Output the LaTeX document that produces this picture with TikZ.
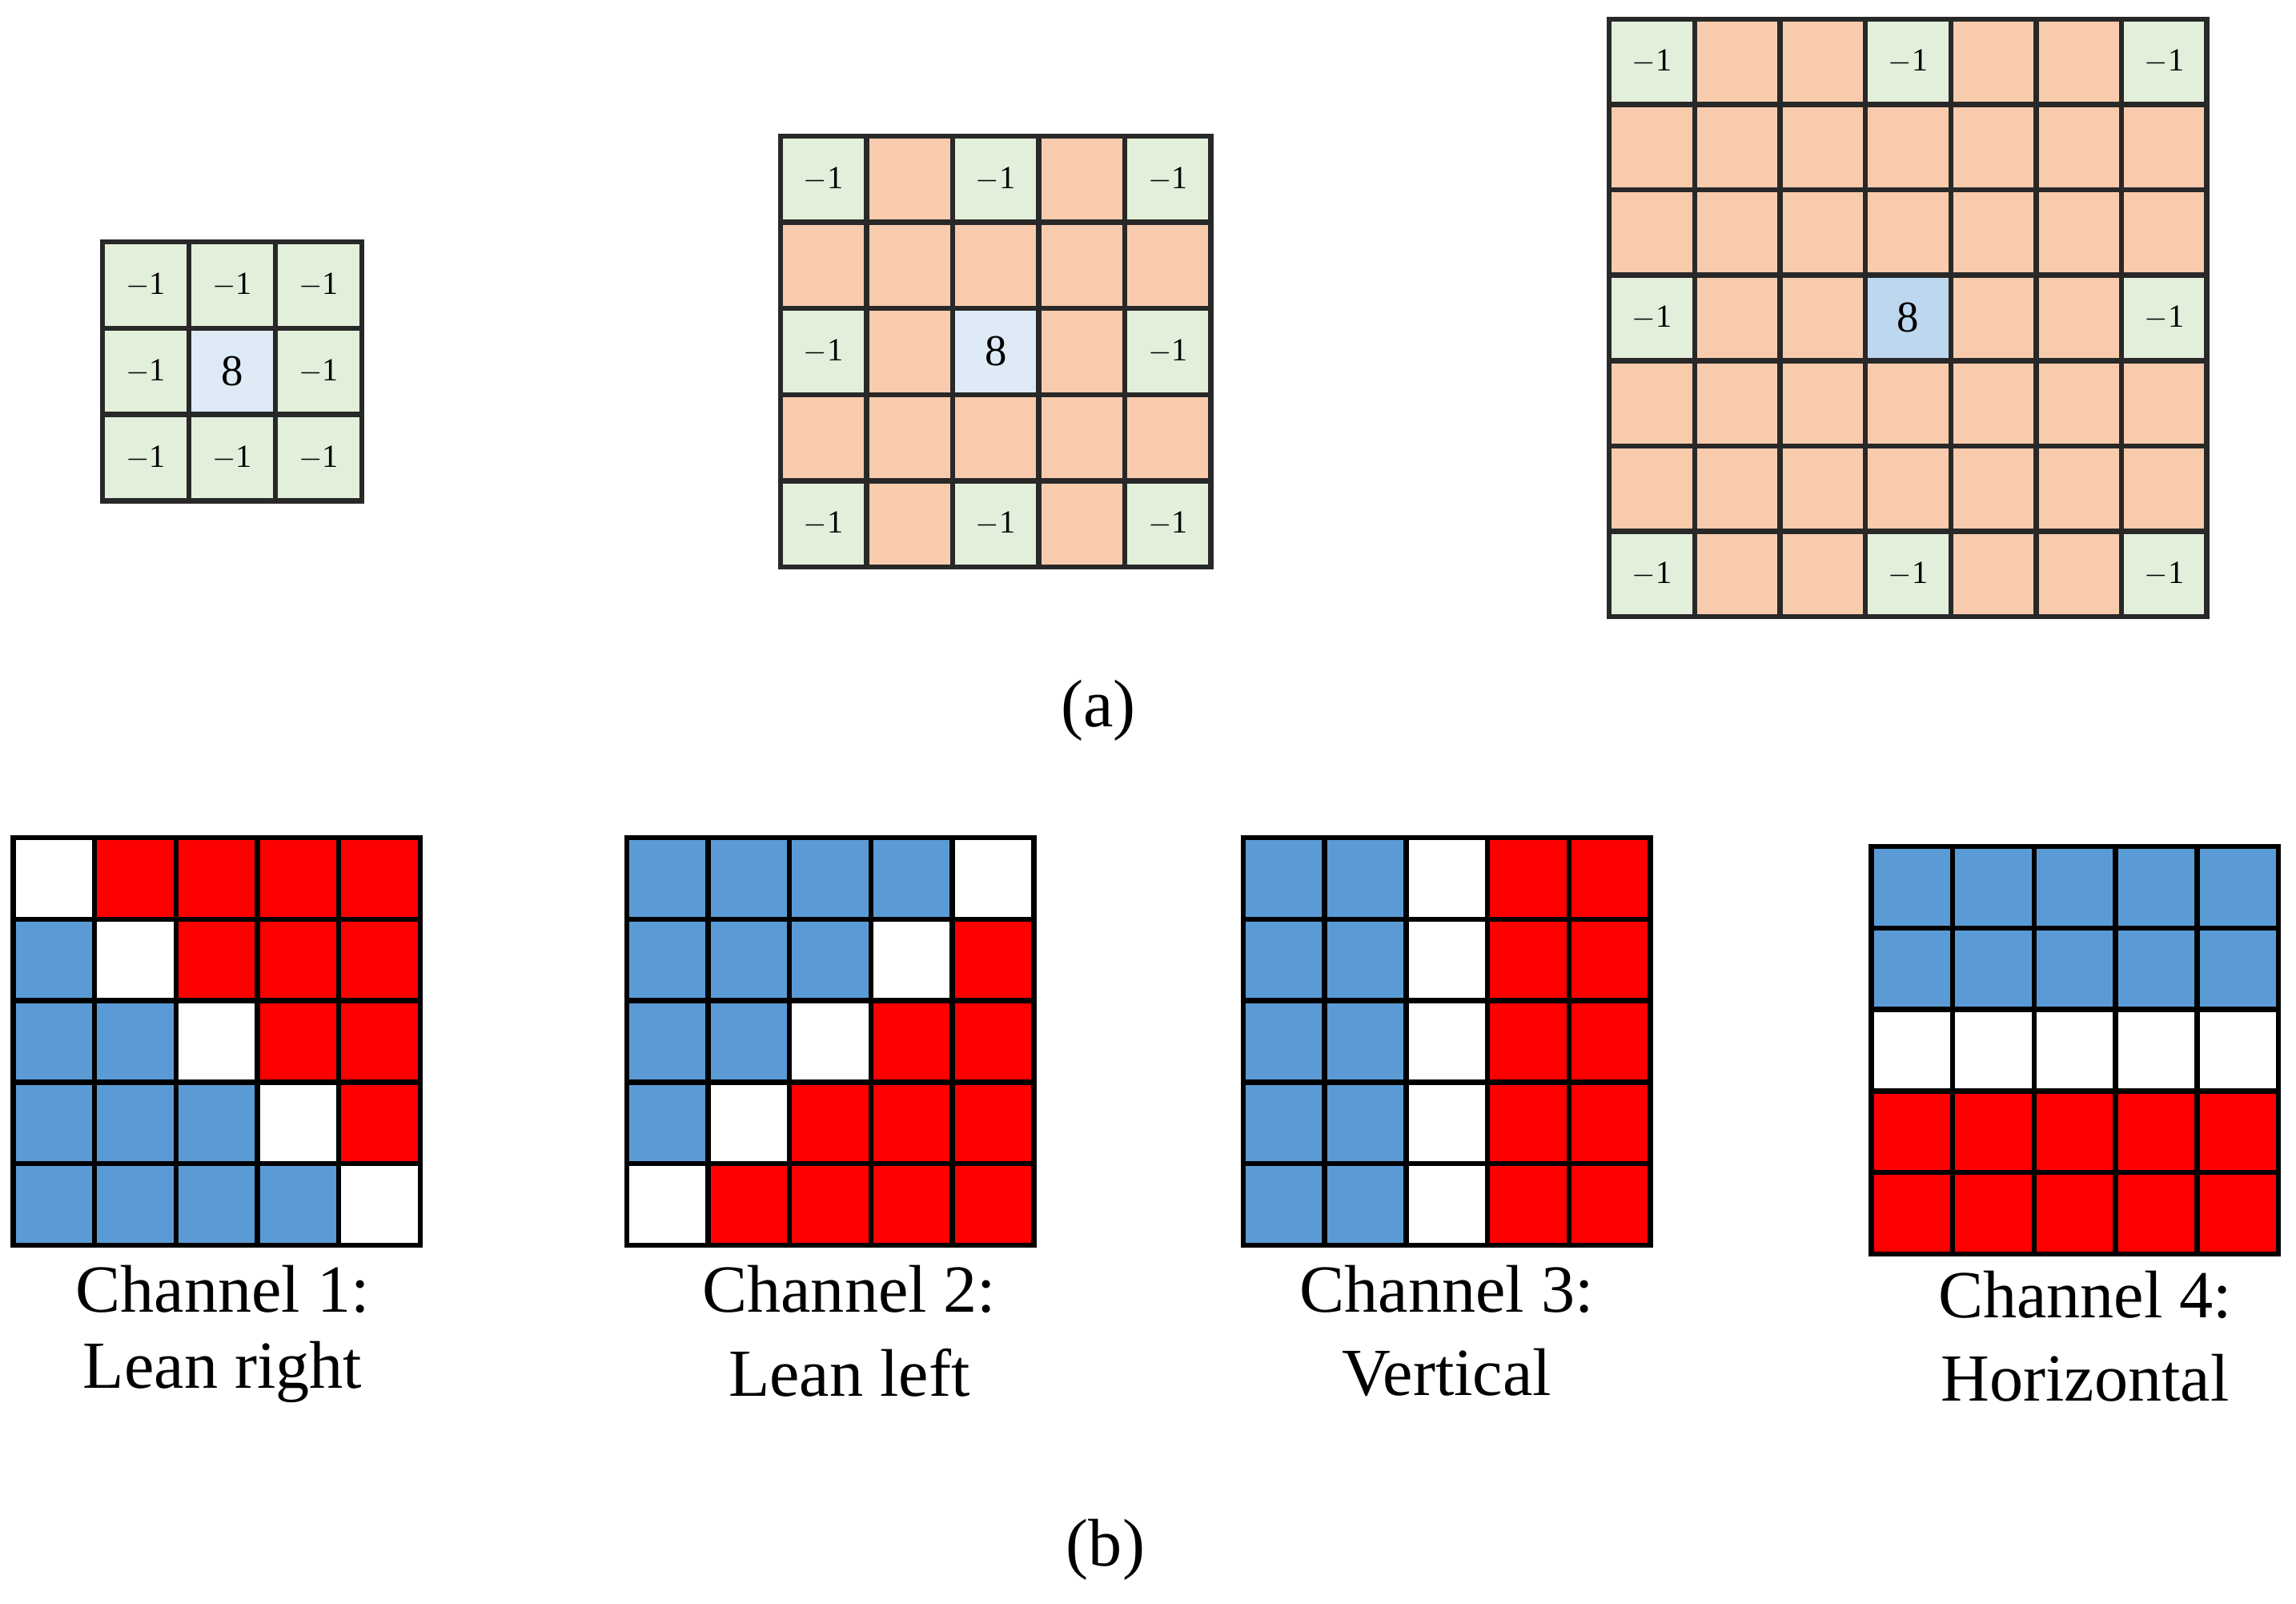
\documentclass[tikz,border=0pt]{standalone}
\usepackage{fontspec}
\setmainfont{Liberation Serif}
\definecolor{cG}{RGB}{226,239,218}
\definecolor{cP}{RGB}{248,203,173}
\definecolor{cL}{RGB}{222,235,247}
\definecolor{cM}{RGB}{189,215,238}
\definecolor{cR}{RGB}{255,0,0}
\definecolor{cB}{RGB}{91,155,213}
\definecolor{cD}{RGB}{40,40,40}
\begin{document}
\begin{tikzpicture}[x=1pt,y=-1pt,
  acell/.style={draw=cD,line width=3.5pt,minimum size=#1,inner sep=0pt,font=\fontsize{22}{22}\selectfont},
  bcell/.style={draw=black,line width=3.5pt,minimum size=55.6pt,inner sep=0pt},
  lab/.style={font=\fontsize{46}{46}\selectfont,inner sep=0pt},
  capt/.style={font=\fontsize{46}{46}\selectfont,inner sep=0pt}]
\useasboundingbox (0,0) rectangle (1568,1095);
% (a) grid 1
\foreach \r in {0,1,2}{\foreach \c in {0,1,2}{
  \pgfmathtruncatemacro\m{(\r==1 && \c==1) ? 1 : 0}
  \ifnum\m=1
    \node[acell=59pt,fill=cL,font=\fontsize{30}{30}\selectfont] (a1-\r-\c) at ({70+29.5+59*\c},{165+29.5+59*\r}) {8};
  \else
    \node[acell=59pt,fill=cG] (a1-\r-\c) at ({70+29.5+59*\c},{165+29.5+59*\r}) {$-$1};
  \fi}}
% (a) grid 2
\foreach \r in {0,...,4}{\foreach \c in {0,...,4}{
  \pgfmathtruncatemacro\g{(mod(\r,2)==0 && mod(\c,2)==0) ? 1 : 0}
  \pgfmathtruncatemacro\m{(\r==2 && \c==2) ? 1 : 0}
  \ifnum\m=1
    \node[acell=58.8pt,fill=cL,font=\fontsize{30}{30}\selectfont] (a2-\r-\c) at ({533+29.4+58.8*\c},{93+29.4+58.8*\r}) {8};
  \else\ifnum\g=1
    \node[acell=58.8pt,fill=cG] (a2-\r-\c) at ({533+29.4+58.8*\c},{93+29.4+58.8*\r}) {$-$1};
  \else
    \node[acell=58.8pt,fill=cP] (a2-\r-\c) at ({533+29.4+58.8*\c},{93+29.4+58.8*\r}) {};
  \fi\fi}}
% (a) grid 3
\foreach \r in {0,...,6}{\foreach \c in {0,...,6}{
  \pgfmathtruncatemacro\g{(mod(\r,3)==0 && mod(\c,3)==0) ? 1 : 0}
  \pgfmathtruncatemacro\m{(\r==3 && \c==3) ? 1 : 0}
  \ifnum\m=1
    \node[acell=58.3pt,fill=cM,font=\fontsize{30}{30}\selectfont] (a3-\r-\c) at ({1099+29.15+58.3*\c},{13+29.15+58.3*\r}) {8};
  \else\ifnum\g=1
    \node[acell=58.3pt,fill=cG] (a3-\r-\c) at ({1099+29.15+58.3*\c},{13+29.15+58.3*\r}) {$-$1};
  \else
    \node[acell=58.3pt,fill=cP] (a3-\r-\c) at ({1099+29.15+58.3*\c},{13+29.15+58.3*\r}) {};
  \fi\fi}}
\node[capt] (capa) at (750,485) {(a)};
% (b) grids
\foreach \k/\x/\y in {1/9/572,2/428/572,3/849/572,4/1278/578}{
 \foreach \r in {0,...,4}{\foreach \c in {0,...,4}{
  \ifcase\k\or
    \pgfmathtruncatemacro\v{\c==\r ? 0 : (\c>\r ? 1 : 2)}\or
    \pgfmathtruncatemacro\v{\c==4-\r ? 0 : (\c>4-\r ? 1 : 2)}\or
    \pgfmathtruncatemacro\v{\c==2 ? 0 : (\c>2 ? 1 : 2)}\or
    \pgfmathtruncatemacro\v{\r==2 ? 0 : (\r>2 ? 1 : 2)}\fi
  \ifcase\v \def\col{white}\or \def\col{cR}\or \def\col{cB}\fi
  \node[bcell,fill=\col] (b\k-\r-\c) at ({\x+27.8+55.6*\c},{\y+27.8+55.6*\r}) {};
 }}}
\node[lab] (l1a) at (152,880) {Channel 1:};
\node[lab] (l1b) at (152,937) {Lean right};
\node[lab] (l2a) at (580,880) {Channel 2:};
\node[lab] (l2b) at (580,937) {Lean left};
\node[lab] (l3a) at (988,880) {Channel 3:};
\node[lab] (l3b) at (988,937) {Vertical};
\node[lab] (l4a) at (1424,884) {Channel 4:};
\node[lab] (l4b) at (1424,941) {Horizontal};
\node[capt] (capb) at (755,1058) {(b)};
\end{tikzpicture}
\end{document}
